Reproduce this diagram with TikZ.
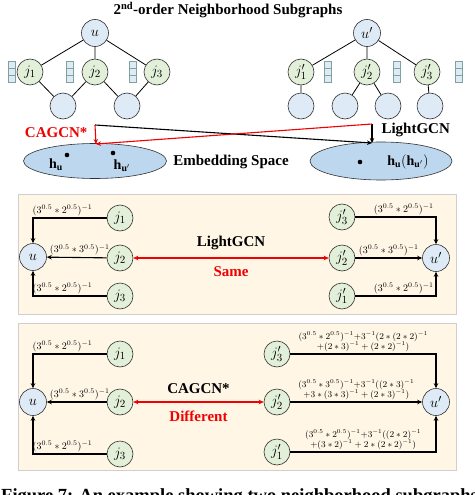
\documentclass[tikz,border=0pt]{standalone}
\usepackage{amsfonts,amssymb,amsmath}
\usepackage{fontspec}
\setmainfont{Liberation Serif}
\usepackage{tikz}
\usepackage{xcolor}
\usetikzlibrary{arrows.meta,shapes,positioning}

\definecolor{nodeblue}{HTML}{DEEBF7}
\definecolor{nodegreen}{HTML}{E2EFD9}
\definecolor{spaceblue}{HTML}{BDD7EE}
\definecolor{boxcream}{HTML}{FFF6E6}
\definecolor{boxgray}{HTML}{D0CECE}
\definecolor{cellteal}{HTML}{7FA29A}
\definecolor{arrowred}{HTML}{F00000}

\tikzset{
 ublue/.style={circle,draw=black!80,fill=nodeblue,minimum size=27pt,inner sep=0pt,line width=0.6pt,font=\fontsize{15.5}{16}\selectfont},
 jgreen/.style={ublue,fill=nodegreen,minimum size=26pt},
 leaf/.style={ublue,minimum size=26pt},
 cell/.style={draw=cellteal,fill=nodeblue,minimum width=7pt,minimum height=7pt,inner sep=0pt,line width=0.5pt},
 space/.style={ellipse,draw=black!80,fill=spaceblue,line width=0.6pt,inner sep=0pt},
 panel/.style={draw=boxgray,fill=boxcream,line width=0.8pt},
 wlabel/.style={font=\fontsize{10}{11}\selectfont,inner sep=1.5pt},
 wlabelb/.style={font=\fontsize{9}{10.5}\selectfont,inner sep=1.5pt,align=center},
 blabel/.style={font=\bfseries\fontsize{15}{17}\selectfont},
 hlabel/.style={font=\fontsize{14}{16}\selectfont},
 flow/.style={-{Stealth[length=5pt,width=4.5pt]},line width=1.1pt},
 redflow/.style={flow,draw=arrowred},
}

\begin{document}
\begin{tikzpicture}[x=1pt,y=-1pt]
\useasboundingbox (0,0) rectangle (474,495);
\fill[white] (0,0) rectangle (474,495);

% title
\node[blabel] (title) at (228,10) {2\textsuperscript{nd}-order Neighborhood Subgraphs};

% left subgraph
\node[ublue] (u) at (95,33) {$u$};
\node[jgreen] (j1) at (30,72) {$j_1$};
\node[jgreen] (j2) at (95,72) {$j_2$};
\node[jgreen] (j3) at (157,72) {$j_3$};
\node[leaf] (l1) at (63,106) {};
\node[leaf] (l2) at (127,106) {};
\draw[line width=0.8pt] (u)--(j1) (u)--(j2) (u)--(j3)
 (j1)--(l1) (j2)--(l1) (j2)--(l2) (j3)--(l2);

% right subgraph
\node[ublue] (up) at (367,33) {$u'$};
\node[jgreen] (jp1) at (301,72) {$j_1'$};
\node[jgreen] (jp2) at (367,72) {$j_2'$};
\node[jgreen] (jp3) at (427,72) {$j_3'$};
\node[leaf] (lp1) at (301,106) {};
\node[leaf] (lp2) at (345,106) {};
\node[leaf] (lp3) at (388,106) {};
\node[leaf] (lp4) at (430,106) {};
\draw[line width=0.8pt] (up)--(jp1) (up)--(jp2) (up)--(jp3)
 (jp1)--(lp1) (jp2)--(lp2) (jp2)--(lp3) (jp3)--(lp4);

% embedding vectors
\foreach \vx in {12,70,133,328,397,459}
 \foreach \k in {0,1,2}
  \node[cell] at (\vx,65+7*\k) {};

% embedding space
\node[space,minimum width=143pt,minimum height=35pt] (embL) at (95,161) {};
\node[space,minimum width=142pt,minimum height=38pt] (embR) at (381,161) {};
\fill (67,155) circle[radius=2.3pt] (113,153) circle[radius=2.3pt] (360,162) circle[radius=2.3pt];
\node[hlabel] (hu) at (56,165) {$\mathbf{h}_{\mathbf{u}}$};
\node[hlabel] (hup) at (122,166) {$\mathbf{h}_{\mathbf{u}'}$};
\node[hlabel] (hboth) at (408,162) {$\mathbf{h}_{\mathbf{u}}(\mathbf{h}_{\mathbf{u}'})$};
\node[blabel] (embtxt) at (231,162) {Embedding Space};

\coordinate (cL) at (95,125);
\coordinate (cR) at (372,124);
\coordinate (tipL) at (96,144);
\coordinate (tipR) at (372,143);
\draw[flow] (cL)--(tipR);
\draw[flow] (cR)--(tipR);
\draw[redflow] (cR)--(tipL);
\draw[redflow] (cL)--(tipL);
\node[blabel,text=arrowred,anchor=east] (cagcn) at (91,133) {CAGCN*};
\node[blabel,anchor=west] (lgcn) at (378,130) {LightGCN};

% LightGCN panel
\draw[panel] (18,194) rectangle (456,314);
\node[ublue] (a) at (33,257) {$u$};
\node[jgreen] (a1) at (120,218) {$j_1$};
\node[jgreen] (a2) at (120,258) {$j_2$};
\node[jgreen] (a3) at (120,296) {$j_3$};
\draw[flow] (a1.west) -| node[wlabel,pos=0.3,above]{$(3^{0.5}\ast2^{0.5})^{-1}$} (a.north);
\draw[flow] (a2) -- node[wlabel,pos=0.45,above]{$(3^{0.5}\ast3^{0.5})^{-1}$} (a);
\draw[flow] (a3.west) -| node[wlabel,pos=0.3,above]{$(3^{0.5}\ast2^{0.5})^{-1}$} (a.south);

\node[ublue] (ap) at (436,258) {$u'$};
\node[jgreen] (ap3) at (342,217) {$j_3'$};
\node[jgreen] (ap2) at (342,258) {$j_2'$};
\node[jgreen] (ap1) at (342,296) {$j_1'$};
\draw[flow] (ap3.east) -| node[wlabel,pos=0.3,above]{$(3^{0.5}\ast2^{0.5})^{-1}$} (ap.north);
\draw[flow] (ap2) -- node[wlabel,pos=0.5,above]{$(3^{0.5}\ast3^{0.5})^{-1}$} (ap);
\draw[flow] (ap1.east) -| node[wlabel,pos=0.3,above]{$(3^{0.5}\ast2^{0.5})^{-1}$} (ap.south);

\draw[redflow,{Stealth[length=5pt,width=4.5pt]}-{Stealth[length=5pt,width=4.5pt]}] (a2) -- node[blabel,above=4pt,text=black]{LightGCN} node[blabel,below=5pt,text=arrowred]{Same} (ap2);

% CAGCN* panel
\draw[panel] (18,323) rectangle (456,470);
\node[ublue] (b) at (33,402) {$u$};
\node[jgreen] (b1) at (120,354) {$j_1$};
\node[jgreen] (b2) at (120,402) {$j_2$};
\node[jgreen] (b3) at (120,454) {$j_3$};
\draw[flow] (b1.west) -| node[wlabel,pos=0.3,above]{$(3^{0.5}\ast2^{0.5})^{-1}$} (b.north);
\draw[flow] (b2) -- node[wlabel,pos=0.45,above]{$(3^{0.5}\ast3^{0.5})^{-1}$} (b);
\draw[flow] (b3.west) -| node[wlabel,pos=0.3,above]{$(3^{0.5}\ast2^{0.5})^{-1}$} (b.south);

\node[ublue] (bp) at (436,402) {$u'$};
\node[jgreen] (bp3) at (277,354) {$j_3'$};
\node[jgreen] (bp2) at (277,402) {$j_2'$};
\node[jgreen] (bp1) at (277,452) {$j_1'$};
\draw[flow] (bp3.east) -| node[wlabelb,pos=0.25,above]{$(3^{0.5}\ast2^{0.5})^{-1}{+}3^{-1}(2\ast(2\ast2)^{-1}$\\$+(2\ast3)^{-1}+(2\ast2)^{-1})$} (bp.north);
\draw[flow] (bp2) -- node[wlabelb,pos=0.5,above]{$(3^{0.5}\ast3^{0.5})^{-1}{+}3^{-1}((2\ast3)^{-1}$\\$+3\ast(3\ast3)^{-1}+(2\ast3)^{-1})$} (bp);
\draw[flow] (bp1.east) -| node[wlabelb,pos=0.25,above]{$(3^{0.5}\ast2^{0.5})^{-1}{+}3^{-1}((2\ast2)^{-1}$\\$+(3\ast2)^{-1}+2\ast(2\ast2)^{-1})$} (bp.south);

\draw[redflow,{Stealth[length=5pt,width=4.5pt]}-{Stealth[length=5pt,width=4.5pt]}] (b2) -- node[blabel,above=4pt,text=black]{CAGCN*} node[blabel,below=5pt,text=arrowred]{Different} (bp2);

% caption, cut by the page edge
\node[anchor=base west,inner sep=0pt,font=\bfseries\fontsize{18.5}{20}\selectfont] (caption) at (1,501) {Figure 7: An example showing two neighborhood subgraphs};
\end{tikzpicture}
\end{document}
